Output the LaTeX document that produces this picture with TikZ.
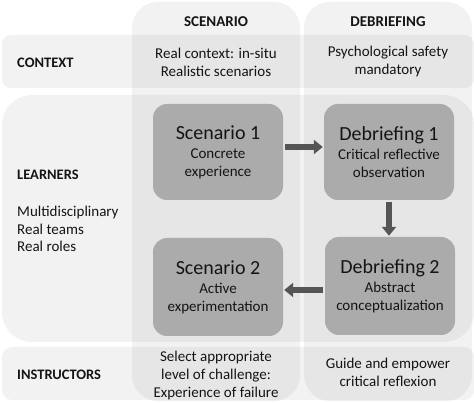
\documentclass[tikz,border=0pt]{standalone}
\usepackage{fontspec}
\setmainfont{Carlito}
\usetikzlibrary{positioning,arrows.meta}
\definecolor{inkgray}{HTML}{141414}
\definecolor{boxgray}{HTML}{ABABAB}
\definecolor{arrowgray}{HTML}{555555}
\tikzset{
	band/.style     = {fill=black, fill opacity=.05, draw=none},
	stage/.style    = {fill=boxgray, draw=none, rounded corners=14pt,
		minimum width = 130pt,
		minimum height = 96pt,
		align=center, text=inkgray},
	cell/.style     = {align=center, text=inkgray, font=\fontsize{15}{18}\selectfont},
	rowlabel/.style = {anchor=west, text=inkgray, font=\fontsize{14.5}{18}\selectfont\bfseries, inner sep=0pt},
	flow/.style     = {draw=arrowgray, line width=6pt,
		-{Triangle[length=9pt,width=14pt]}, shorten <=2pt, shorten >=1pt},
}
\newcommand{\stagetitle}[1]{{\fontsize{20}{22}\selectfont #1}\\[1pt]}

\begin{document}
\begin{tikzpicture}[x=1pt, y=-1pt,       %<--one unit is one point, y runs down
                    font=\fontsize{15}{18}\selectfont]
    \useasboundingbox (0,0) rectangle (474,403);

    %Drawing the Row Bands:
    \fill[band, rounded corners=9pt]  (2,35) rectangle (474,88);
    \fill[band, rounded corners=30pt] (2,95) rectangle (474,342);
    \fill[band, rounded corners=10pt] (2,347) rectangle (474,400);
    %Drawing the Column Bands:
    \fill[band, rounded corners=26pt] (132,2) rectangle (300,401);
    \fill[band, rounded corners=26pt] (304,2) rectangle (472,401);

    %Drawing the Headers:
    \node(hdrScen) at (216,22) [cell, font=\fontsize{15}{18}\selectfont\bfseries] {SCENARIO};
    \node(hdrDebr) at (388,22) [cell, font=\fontsize{15}{18}\selectfont\bfseries] {DEBRIEFING};

    %Drawing the Row Labels:
    \node(ctxLabel) at (17,63)  [rowlabel] {CONTEXT};
    \node(lrnLabel) at (17,175) [rowlabel] {LEARNERS};
    \node(lrnList)  at (17,229) [rowlabel, align=left, font=\fontsize{15}{17.5}\selectfont] {Multidisciplinary\\Real teams\\Real roles};
    \node(insLabel) at (17,375) [rowlabel] {INSTRUCTORS};

    %Drawing the Cells:
    \node(ctxScen) at (216,62)  [cell] {Real context: in-situ\\Realistic scenarios};
    \node(ctxDebr) at (388,62)  [cell] {Psychological safety\\mandatory};
    \node(insScen) at (216,376) [cell] {Select appropriate\\level of challenge:\\Experience of failure};
    \node(insDebr) at (388,372) [cell] {Guide and empower\\critical reflexion};

    %Drawing the Stage Blocks:
    \node(scen1) at (218,152) [stage] {\stagetitle{Scenario 1}Concrete\\experience};
    \node(debr1) at (389,152) [stage] {\stagetitle{Debriefing 1}Critical reflective\\observation};
    \node(debr2) at (390,286) [stage, minimum height=98pt] {\stagetitle{Debriefing 2}Abstract\\conceptualization};
    \node(scen2) at (218,287) [stage, minimum height=98pt] {\stagetitle{Scenario 2}Active\\experimentation};

    %Joining the Blocks
    \draw[flow] ([yshift=5pt]scen1.east) -- ([yshift=5pt]scen1.east -| debr1.west);
    \draw[flow] (debr1.south) -- (debr1.south |- debr2.north);
    \draw[flow] ([yshift=-4pt]debr2.west) -- ([yshift=-4pt]debr2.west -| scen2.east);
\end{tikzpicture}
\end{document}
